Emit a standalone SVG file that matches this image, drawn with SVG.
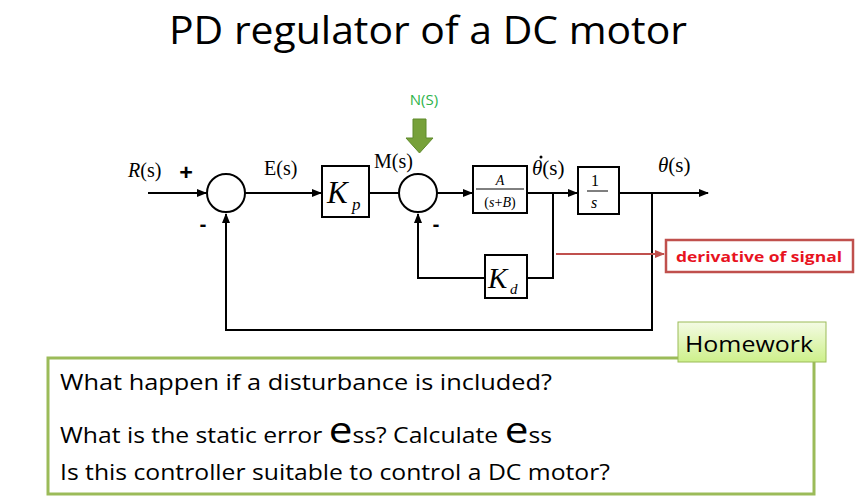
<svg xmlns="http://www.w3.org/2000/svg" width="856" height="501" viewBox="0 0 856 501">
<defs>
<marker id="ar" markerWidth="10" markerHeight="8" refX="9" refY="4" orient="auto" markerUnits="userSpaceOnUse"><path d="M0,0 L10,4 L0,8 Z" fill="#000"/></marker>
<marker id="ra" markerWidth="10" markerHeight="8" refX="9" refY="4" orient="auto" markerUnits="userSpaceOnUse"><path d="M0,0 L10,4 L0,8 Z" fill="#c0504d"/></marker>
<linearGradient id="hg" x1="0" y1="0" x2="0" y2="1"><stop offset="0" stop-color="#f4fbe4"/><stop offset="1" stop-color="#cdf08a"/></linearGradient>
</defs>
<style>
.blk{fill:#fff;stroke:#000;stroke-width:2}
.ln{fill:none;stroke:#000;stroke-width:2}
.tm{font-family:"Liberation Serif",serif;fill:#000}
.sa{font-family:"Open Sans","Liberation Sans",sans-serif}
</style>
<rect width="856" height="501" fill="#fff"/>
<text x="428" y="44" text-anchor="middle" class="sa" font-size="38" fill="#000" textLength="518" lengthAdjust="spacingAndGlyphs">PD regulator of a DC motor</text>
<g id="connectors">
<line class="ln" x1="148" y1="193" x2="206" y2="193" marker-end="url(#ar)"/>
<line class="ln" x1="245" y1="193" x2="321" y2="193" marker-end="url(#ar)"/>
<line class="ln" x1="369" y1="193" x2="399" y2="193"/>
<line class="ln" x1="437" y1="193" x2="472" y2="193" marker-end="url(#ar)"/>
<line class="ln" x1="527" y1="193" x2="577" y2="193" marker-end="url(#ar)"/>
<line class="ln" x1="619" y1="193" x2="708" y2="193" marker-end="url(#ar)"/>
<polyline class="ln" points="553,193 553,278 527,278"/>
<polyline class="ln" points="485,278 418,278 418,214" marker-end="url(#ar)"/>
<polyline class="ln" points="652,193 652,330 226,330 226,214" marker-end="url(#ar)"/>
<line x1="556" y1="254" x2="664" y2="254" stroke="#c0504d" stroke-width="2" marker-end="url(#ra)"/>
<polygon points="413,119 426,119 426,138 433,138 419.5,153 406,138 413,138" fill="#77a13a" stroke="#5e8a2a" stroke-width="1"/>
</g>
<g id="sum1"><circle class="blk" cx="226" cy="193" r="19"/>
<text x="186" y="181" class="sa" font-size="24" font-weight="bold" text-anchor="middle">+</text>
<text x="203" y="231" class="sa" font-size="20" font-weight="bold" text-anchor="middle">-</text></g>
<g id="sum2"><circle class="blk" cx="418" cy="193" r="19"/>
<text x="436" y="231" class="sa" font-size="20" font-weight="bold" text-anchor="middle">-</text></g>
<g id="kp"><rect class="blk" x="322" y="166" width="47" height="51"/>
<text x="327" y="203" class="tm" font-size="31" font-style="italic">K</text><text x="352" y="210" class="tm" font-size="17" font-style="italic">p</text></g>
<g id="plant"><rect class="blk" x="473" y="166" width="54" height="47"/>
<text x="500" y="185" class="tm" font-size="14" font-style="italic" text-anchor="middle">A</text>
<line x1="476" y1="189" x2="524" y2="189" stroke="#000" stroke-width="1"/>
<text x="500" y="207" class="tm" font-size="14" text-anchor="middle">(<tspan font-style="italic">s</tspan>+<tspan font-style="italic">B</tspan>)</text></g>
<g id="integ"><rect class="blk" x="578" y="167" width="41" height="47"/>
<text x="591" y="186" class="tm" font-size="16">1</text>
<line x1="587" y1="191" x2="608" y2="191" stroke="#000" stroke-width="1"/>
<text x="591" y="208" class="tm" font-size="16" font-style="italic">s</text></g>
<g id="kd"><rect class="blk" x="485" y="255" width="42" height="43"/>
<text x="488" y="288" class="tm" font-size="29" font-style="italic">K</text><text x="510" y="294" class="tm" font-size="15" font-style="italic">d</text></g>
<g id="labels">
<text x="128" y="177" class="tm" font-size="20"><tspan font-style="italic">R</tspan>(s)</text>
<text x="264" y="175" class="tm" font-size="20">E(s)</text>
<text x="374" y="168" class="tm" font-size="20">M(s)</text>
<text x="424" y="105" class="sa" font-size="15" fill="#2db34a" text-anchor="middle">N(S)</text>
<text x="532" y="175" class="tm" font-size="21"><tspan font-style="italic">θ</tspan>(s)</text>
<circle cx="541" cy="157" r="1.5" fill="#000"/>
<text x="658" y="172" class="tm" font-size="21"><tspan font-style="italic">θ</tspan>(s)</text>
</g>
<g id="deriv"><rect x="666" y="240" width="187" height="32" fill="#fff" stroke="#c0504d" stroke-width="2.5"/>
<text x="676" y="262" class="sa" font-size="15" font-weight="bold" fill="#e8131f" textLength="166" lengthAdjust="spacingAndGlyphs">derivative of signal</text></g>
<g id="question"><rect x="48" y="358" width="766" height="136" fill="#fff" stroke="#9bbb59" stroke-width="3"/>
<text x="60" y="390" class="sa" font-size="21" fill="#000" textLength="492" lengthAdjust="spacingAndGlyphs">What happen if a disturbance is included?</text>
<text x="60" y="443" class="sa" font-size="21" fill="#000" textLength="492" lengthAdjust="spacingAndGlyphs">What is the static error <tspan font-size="36">e</tspan>ss? Calculate <tspan font-size="36">e</tspan>ss</text>
<text x="60" y="480" class="sa" font-size="21" fill="#000" textLength="550" lengthAdjust="spacingAndGlyphs">Is this controller suitable to control a DC motor?</text></g>
<g id="homework"><rect x="678" y="322" width="148" height="40" fill="url(#hg)" stroke="#9bbb59" stroke-width="1"/>
<text x="685" y="352" class="sa" font-size="22" fill="#000" textLength="128" lengthAdjust="spacingAndGlyphs">Homework</text></g>
</svg>
